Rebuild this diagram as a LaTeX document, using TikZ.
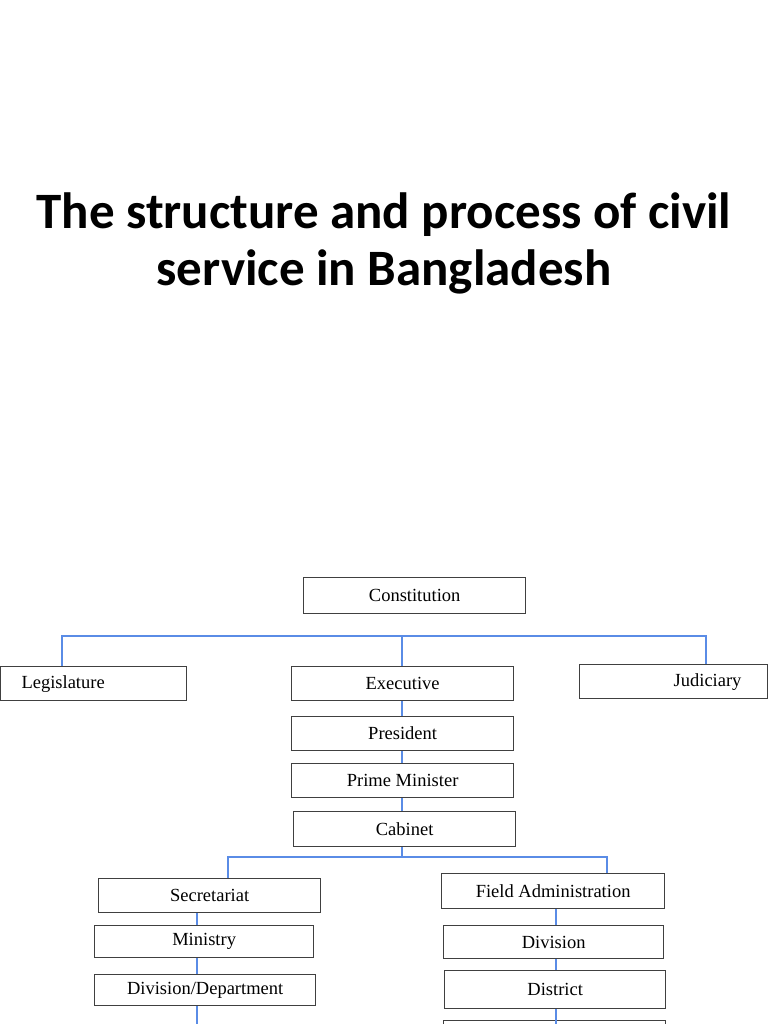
\documentclass[tikz,border=0pt]{standalone}
\usepackage{fontspec}
\setmainfont{Liberation Serif}
\newfontfamily\titlefont{Carlito}
\begin{document}
\begin{tikzpicture}[x=1pt,y=-1pt,
  bx/.style={draw=black!75,line width=1.3pt,inner sep=0pt,font=\fontsize{18.5}{20}\selectfont},
  lbl/.style={font=\fontsize{18.5}{20}\selectfont}]
\tikzset{ln/.style={draw={rgb,255:red,90;green,140;blue,230},line width=1.5pt}}
\useasboundingbox (0,0) rectangle (768,1024);
\node[font=\titlefont\bfseries\fontsize{51}{57}\selectfont,align=center] (title) at (384,243) {The structure and process of civil\\service in Bangladesh};
\def\B#1#2#3#4#5#6{\node[bx,minimum width={#4-#2},minimum height={#5-#3},anchor=north west] (#1) at (#2,#3) {#6};}
\B{const}{303}{577}{525}{613}{Constitution}
\B{leg}{0}{666}{186}{700}{}
\node[lbl,anchor=west] (legt) at (18,684) {Legislature};
\B{exec}{291}{666}{513}{700}{Executive}
\B{jud}{579}{664}{767}{698}{}
\node[lbl,anchor=east] (judt) at (745,682) {Judiciary};
\B{pres}{291}{716}{513}{750}{President}
\B{pm}{291}{763}{513}{797}{Prime Minister}
\B{cab}{293}{811}{515}{846}{Cabinet}
\B{sec}{98}{878}{320}{912}{Secretariat}
\B{min}{94}{925}{313}{957}{Ministry}
\B{dd}{94}{974}{315}{1005}{Division/Department}
\B{fa}{441}{873}{664}{908}{Field Administration}
\B{div}{443}{925}{663}{958}{Division}
\B{dist}{444}{970}{665}{1008}{District}
\B{nxt}{443}{1020}{665}{1040}{}
\coordinate (h1) at (402,636);
\coordinate (h2) at (402,857);
\coordinate (b1) at (197,1024);
\coordinate (b2) at (556,1024);
\draw[ln] (leg.north -| 62,0) -- (62,636) -- (706,636) -- (jud.north -| 706,0);
\draw[ln] (h1) -- (exec.north -| h1);
\draw[ln] (exec.south -| 402,0) -- (pres.north -| 402,0);
\draw[ln] (pres.south -| 402,0) -- (pm.north -| 402,0);
\draw[ln] (pm.south -| 402,0) -- (cab.north -| 402,0);
\draw[ln] (cab.south -| 402,0) -- (h2);
\draw[ln] (sec.north -| 228,0) -- (228,857) -- (607,857) -- (fa.north -| 607,0);
\draw[ln] (sec.south -| 197,0) -- (min.north -| 197,0);
\draw[ln] (min.south -| 197,0) -- (dd.north -| 197,0);
\draw[ln] (dd.south -| 197,0) -- (b1);
\draw[ln] (fa.south -| 556,0) -- (div.north -| 556,0);
\draw[ln] (div.south -| 556,0) -- (dist.north -| 556,0);
\draw[ln] (dist.south -| 556,0) -- (b2);
\end{tikzpicture}
\end{document}
